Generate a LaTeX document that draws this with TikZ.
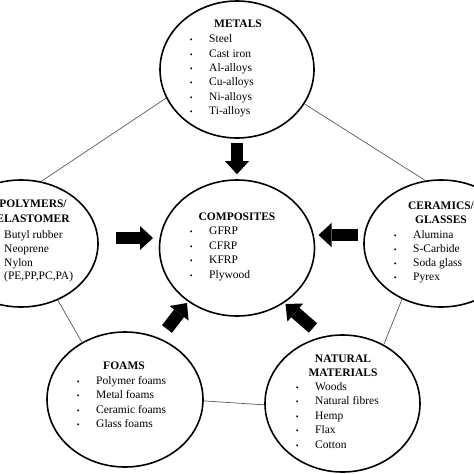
\documentclass[tikz,border=0pt]{standalone}
\usepackage{fontspec}
\setmainfont{Liberation Serif}
\usetikzlibrary{shapes.geometric,arrows.meta}
\newcommand{\bul}{\llap{{\fontsize{8}{8}\selectfont\textbullet}\hspace{16.6pt}}}
\begin{document}
\begin{tikzpicture}[x=1pt,y=-1pt,
  ell/.style={draw,ellipse,line width=1.6pt,inner sep=0pt},
  conn/.style={draw=black!65,line width=0.7pt},
  blk/.style={line width=12.5pt,-{Triangle[width=24pt,length=13pt,line width=0pt]}},
  head/.style={font=\fontsize{11.5}{14}\selectfont\bfseries,anchor=mid,inner sep=0pt,yshift=1pt},
  item/.style={font=\fontsize{11.5}{14}\selectfont,anchor=mid west,inner sep=0pt,yshift=1pt}]
\useasboundingbox (0,0) rectangle (474,474);
% ellipses
\node[ell,minimum width=154pt,minimum height=137pt] (metals) at (237,69.5) {};
\node[ell,minimum width=155pt,minimum height=136pt] (comp) at (237,248) {};
\node[ell,minimum width=154pt,minimum height=127pt] (poly) at (21,243.5) {};
\node[ell,minimum width=154pt,minimum height=127pt] (cer) at (441,243.5) {};
\node[ell,minimum width=156pt,minimum height=135pt] (foams) at (125,399.5) {};
\node[ell,minimum width=155pt,minimum height=137pt] (nat) at (342.5,403.5) {};
% thin connectors
\draw[conn] (metals.202) -- (poly.72);
\draw[conn] (metals.333) -- (cer.104);
\draw[conn] (poly.303) -- (foams.127);
\draw[conn] (cer.235) -- (nat.55);
\draw[conn] (foams.-1) -- (nat.181);
% block arrows
\coordinate (pa1) at (116,238); \coordinate (pa2) at (153,238);
\coordinate (ca1) at (357.5,235); \coordinate (ca2) at (318.5,235);
\coordinate (fa1) at (167,329); \coordinate (fa2) at (187,303);
\coordinate (na1) at (313,328); \coordinate (na2) at (285.5,304);
\draw[blk,shorten <=4pt,shorten >=5pt] (metals) -- (comp);
\draw[blk] (pa1) -- (pa2);
\draw[blk] (ca1) -- (ca2);
\draw[blk] (fa1) -- (fa2);
\draw[blk] (na1) -- (na2);
% texts
\node[head] (metalsh) at (238,26.5) {METALS};
\foreach \t [count=\i] in {Steel,Cast iron,Al-alloys,Cu-alloys,Ni-alloys,Ti-alloys}
  \node[item] (met\i) at (209,{41.7+14.3*(\i-1)}) {\bul\t};
\node[head] (comph) at (237,219.3) {COMPOSITES};
\foreach \t [count=\i] in {GFRP,CFRP,KFRP,Plywood}
  \node[item] (com\i) at (209,{233.3+14.6*(\i-1)}) {\bul\t};
\node[head] (polyh1) at (33,206.7) {POLYMERS/};
\node[head] (polyh2) at (33,221) {ELASTOMER};
\foreach \t [count=\i] in {Butyl rubber,Neoprene,Nylon}
  \node[item] (pol\i) at (4,{237+13.9*(\i-1)}) {\bul\t};
\node[item] (pol4) at (4,278.7) {(PE,PP,PC,PA)};
\node[head] (cerh1) at (441,208) {CERAMICS/};
\node[head] (cerh2) at (441,222) {GLASSES};
\foreach \t [count=\i] in {Alumina,S-Carbide,Soda glass,Pyrex}
  \node[item] (cer\i) at (413,{237+14*(\i-1)}) {\bul\t};
\node[head] (foamh) at (124,368) {FOAMS};
\foreach \t [count=\i] in {Polymer foams,Metal foams,Ceramic foams,Glass foams}
  \node[item] (foa\i) at (96,{383+14.4*(\i-1)}) {\bul\t};
\node[head] (nath1) at (343,361) {NATURAL};
\node[head] (nath2) at (343,375) {MATERIALS};
\foreach \t [count=\i] in {Woods,Natural fibres,Hemp,Flax,Cotton}
  \node[item] (nat\i) at (315,{389+14.5*(\i-1)}) {\bul\t};
\end{tikzpicture}
\end{document}
